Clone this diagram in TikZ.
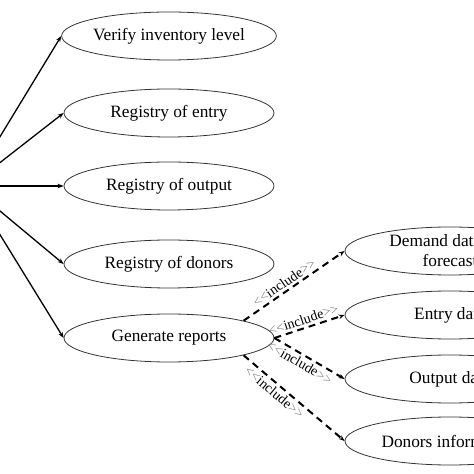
\documentclass[tikz,border=0pt]{standalone}
\usepackage{fontspec}
\setmainfont{Liberation Serif}
\usetikzlibrary{shapes.geometric,arrows.meta}
\tikzset{
  usecase/.style={draw=black!80,line width=0.8pt,ellipse,minimum width=210pt,
    minimum height=48pt,inner sep=0pt,align=center,
    font=\fontsize{17.3}{20}\selectfont},
  assoc/.style={line width=1.3pt,-{Stealth[length=6pt,width=4.5pt]}},
  incl/.style={line width=2pt,dash pattern=on 7pt off 5pt,
    -{Stealth[length=6pt,width=4.5pt]}},
  incllabel/.style={sloped,inner sep=2.5pt,font=\fontsize{14}{15}\selectfont}
}
\newcommand{\incltext}{\textcolor{gray}{<\kern0pt<}include\textcolor{gray}{>\kern0pt>}}
\begin{document}
\begin{tikzpicture}[x=1pt,y=1pt]
    \useasboundingbox (0,0) rectangle (474,474);
    \clip (0,0) rectangle (474,474);
    % actor sits outside the frame
    \coordinate (actor) at (-30,288);
    \node[usecase] (verify) at (169,438) {Verify inventory level};
    \node[usecase] (entry) at (169,361) {Registry of entry};
    \node[usecase] (output) at (169,288) {Registry of output};
    \node[usecase] (donors) at (169,210) {Registry of donors};
    \node[usecase] (reports) at (169,136) {Generate reports};
    \node[usecase] (demand) at (450,223) {Demand data and\\forecast};
    \node[usecase] (entrydata) at (450,159) {Entry data};
    \node[usecase] (outputdata) at (450,95) {Output data};
    \node[usecase] (donorsinfo) at (450,33) {Donors information};
    \draw[assoc] (actor) -- (verify.west);
    \draw[assoc] (actor) -- (entry.west);
    \draw[assoc] (actor) -- (output.west);
    \draw[assoc] (actor) -- (donors.west);
    \draw[assoc] (actor) -- (reports.west);
    % include relations
    \draw[incl] (reports.north east) -- node[incllabel,above,pos=.45] {\incltext} (demand.west);
    \draw[incl] (reports.east) -- node[incllabel,above,pos=.45] {\incltext} (entrydata.west);
    \draw[incl] (reports.east) -- node[incllabel,below,pos=.42] {\incltext} (outputdata.west);
    \draw[incl] (reports.south east) -- node[incllabel,below,pos=.36] {\incltext} (donorsinfo.west);
\end{tikzpicture}
\end{document}
